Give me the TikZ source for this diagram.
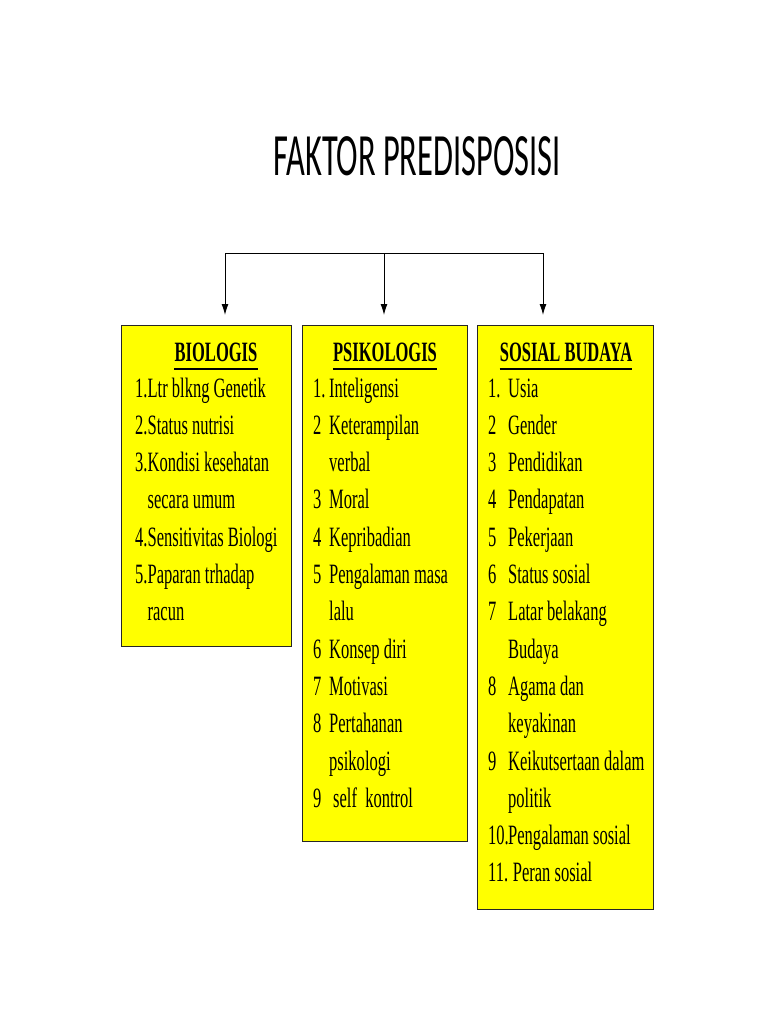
\documentclass[tikz,border=0pt]{standalone}
\usepackage{fontspec}
\setmainfont{Liberation Serif}[FakeStretch=0.59]
\newfontfamily\titlefont{Carlito}[FakeStretch=0.54]
\usepackage{tikz}
\usetikzlibrary{arrows.meta}
\usetikzlibrary{positioning, calc}
\definecolor{boxyellow}{RGB}{255,255,0}
\tikzset{
    box/.style = {draw=black!85, line width=1.2pt, fill=boxyellow,
        inner sep=0pt, anchor=north west},
    head/.style = {inner sep=0pt, anchor=base,
        font=\fontsize{28}{30}\selectfont\bfseries},
    item/.style = {inner sep=0pt, anchor=base west,
        font=\fontsize{28}{30}\selectfont},
}

\begin{document}
\begin{tikzpicture}[x=1pt,y=-1pt,>={Latex[length=11pt,width=7pt]}]
            \useasboundingbox (0,0) rectangle (768,1024);
            \node (title) [anchor=base, inner sep=0pt,
                font=\titlefont\fontsize{60}{60}\selectfont] at (417,176) {FAKTOR PREDISPOSISI};
            % the three boxes
            \node (bio) [box, minimum width=170pt, minimum height=321pt] at (121,325) {};
            \node (psi) [box, minimum width=165pt, minimum height=516pt] at (302,325) {};
            \node (sos) [box, minimum width=176pt, minimum height=584pt] at (477,325) {};
            % connector from the title down to the boxes
            \coordinate (jl) at (225,253);
            \coordinate (jm) at (384,253);
            \coordinate (jr) at (543,253);
            \draw[line width=1pt] (jl) -- (jr);
            \foreach \j/\b in {jl/bio, jm/psi, jr/sos}
                \draw[->, line width=1pt, shorten >=10pt] (\j) -- (\j |- \b.north);
            % headings
            \node (hbio) [head] at (216,361) {BIOLOGIS};
            \node (hpsi) [head] at (385,361) {PSIKOLOGIS};
            \node (hsos) [head] at (566,361) {SOSIAL BUDAYA};
            \foreach \h in {hbio, hpsi, hsos}
                \draw[line width=2.5pt] ([yshift=-8pt]\h.base west) -- ([yshift=-8pt]\h.base east);
            % lists
            \foreach \lbl [count=\i] in {1.Ltr blkng Genetik, 2.Status nutrisi,
                3.Kondisi kesehatan, \phantom{3.}secara umum, 4.Sensitivitas Biologi,
                5.Paparan trhadap, \phantom{5.}racun}
                \node (bio\i) [item] at (135,{397+37.3*(\i-1)}) {\lbl};
            \foreach \nr/\lbl [count=\i] in {1./Inteligensi, 2/Keterampilan, {}/verbal,
                3/Moral, 4/Kepribadian, 5/Pengalaman masa, {}/lalu, 6/Konsep diri,
                7/Motivasi, 8/Pertahanan, {}/psikologi, 9/\hspace{4pt}self\ \ kontrol}
                \node (psi\i) [item] at (313,{397+37.3*(\i-1)}) {\makebox[16pt][l]{\nr}\lbl};
            \foreach \nr/\lbl [count=\i] in {1./Usia, 2/Gender, 3/Pendidikan, 4/Pendapatan,
                5/Pekerjaan, 6/Status sosial, 7/Latar belakang, {}/Budaya, 8/Agama dan,
                {}/keyakinan, 9/Keikutsertaan dalam, {}/politik, 10./Pengalaman sosial,
                11./\,Peran sosial}
                \node (sos\i) [item] at (488,{397+37.3*(\i-1)}) {\makebox[20pt][l]{\nr}\lbl};
\end{tikzpicture}
\end{document}
